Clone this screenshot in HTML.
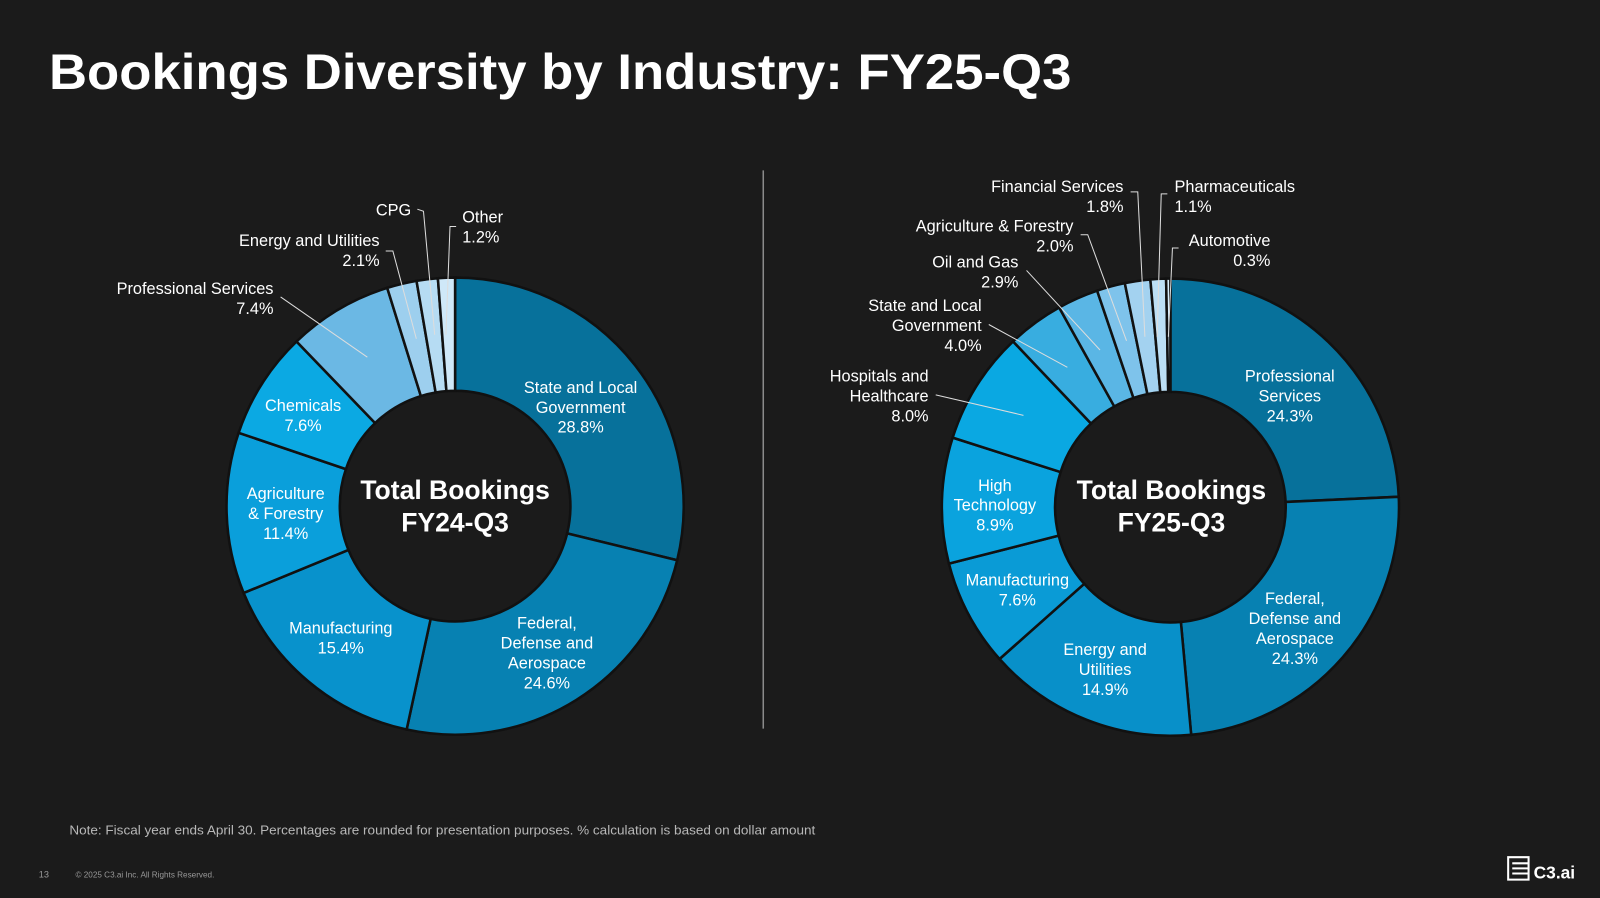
<!DOCTYPE html>
<html><head><meta charset="utf-8"><style>
html,body{margin:0;padding:0;background:#1b1b1b;width:1600px;height:898px;overflow:hidden}
svg{display:block}
text{font-family:"Liberation Sans",Arial,sans-serif;fill:#fff}
</style></head><body>
<svg id="chart" width="1600" height="898" viewBox="0 0 1568 880" preserveAspectRatio="none" xmlns="http://www.w3.org/2000/svg">
<rect width="1568" height="880" fill="#1b1b1b"/>
<text x="48" y="87" font-size="49" font-weight="bold" textLength="1002" lengthAdjust="spacingAndGlyphs">Bookings Diversity by Industry: FY25-Q3</text>
<line x1="748" y1="167" x2="748" y2="714" stroke="#8a8a8a" stroke-width="1.5"/>
<g id="left"></g><g id="right"></g><g id="labels"></g>
<text x="68" y="818" font-size="13" textLength="731" lengthAdjust="spacingAndGlyphs" style="fill:#b8b8b8">Note: Fiscal year ends April 30. Percentages are rounded for presentation purposes. % calculation is based on dollar amount</text>
<text x="38" y="860" font-size="9" style="fill:#999">13</text>
<text x="74" y="860" font-size="8" style="fill:#999">© 2025 C3.ai Inc. All Rights Reserved.</text>
<g>
<path d="M1478 840h20v22h-20z M1482 846h16 M1482 851h16 M1482 856h16" fill="none" stroke="#fff" stroke-width="2"/>
<text x="1503" y="861" font-size="17" font-weight="bold">C3.ai</text>
</g>
</svg>
<script>
const leftCategories=["State and Local Government","Federal, Defense and Aerospace","Manufacturing","Agriculture & Forestry","Chemicals","Professional Services","Energy and Utilities","CPG","Other"];
const leftValues=[28.8,24.6,15.4,11.4,7.6,7.4,2.1,1.5,1.2];
const leftColors=["#07719b","#0781b2","#0892cc","#0a9fdb","#0ba9e3","#6bb8e4","#9dcfee","#b6dcf3","#cfe8f8"];
const rightCategories=["Professional Services","Federal, Defense and Aerospace","Energy and Utilities","Manufacturing","High Technology","Hospitals and Healthcare","State and Local Government","Oil and Gas","Agriculture & Forestry","Financial Services","Pharmaceuticals","Automotive"];
const rightValues=[24.3,24.3,14.9,7.6,8.9,8.0,4.0,2.9,2.0,1.8,1.1,0.3];
const rightColors=["#07719b","#0781b2","#0890c9","#0a9bd6","#0aa3de","#0aa8e2","#38ade0","#5ab6e5","#7ec3eb","#a3d2f0","#bcdff5","#d6ecfa"];
const NS="http://www.w3.org/2000/svg";
function donut(gid,cx,cy,R,r,vals,cols,cats){
  const g=document.getElementById(gid);
  const tot=vals.reduce((a,b)=>a+b,0);
  let a0=0;
  vals.forEach((v,i)=>{
    const a1=a0+v/tot*2*Math.PI;
    const p=(a,rr)=>[cx+rr*Math.sin(a),cy-rr*Math.cos(a)];
    const [x1,y1]=p(a0,R),[x2,y2]=p(a1,R),[x3,y3]=p(a1,r),[x4,y4]=p(a0,r);
    const lg=(a1-a0)>Math.PI?1:0;
    const path=document.createElementNS(NS,"path");
    path.setAttribute("d",`M${x1},${y1}A${R},${R} 0 ${lg} 1 ${x2},${y2}L${x3},${y3}A${r},${r} 0 ${lg} 0 ${x4},${y4}Z`);
    path.setAttribute("fill",cols[i]);
    path.setAttribute("stroke","#111");
    path.setAttribute("stroke-width","2.5");
    
    
    g.appendChild(path);
    a0=a1;
  });
}
donut("left",446,496,224,113,leftValues,leftColors,leftCategories);
donut("right",1147,497,224,113,rightValues,rightColors,rightCategories);
const L=document.getElementById("labels");
function txt(name,x,y,lines,anchor,size,bold){
  const t=document.createElementNS(NS,"text");
  t.setAttribute("x",x);t.setAttribute("y",y);
  t.setAttribute("text-anchor",anchor);t.setAttribute("font-size",size);
  if(bold)t.setAttribute("font-weight","bold");
  
  
  lines.forEach((s,k)=>{const ts=document.createElementNS(NS,"tspan");ts.setAttribute("x",x);ts.setAttribute("dy",k?size*1.22:0);ts.textContent=s;t.appendChild(ts);});
  L.appendChild(t);
}
function line(name,pts){
  const p=document.createElementNS(NS,"polyline");
  p.setAttribute("points",pts);p.setAttribute("fill","none");p.setAttribute("stroke","#ddd");p.setAttribute("stroke-width","1");
  
  
  L.appendChild(p);
}
const f=v=>v.toFixed(1)+"%";
txt("label-state-local-fy24",569,385,["State and Local","Government",f(leftValues[0])],"middle",16);
txt("label-federal-fy24",536,616,["Federal,","Defense and","Aerospace",f(leftValues[1])],"middle",16);
txt("label-manufacturing-fy24",334,621,["Manufacturing",f(leftValues[2])],"middle",16);
txt("label-agriculture-fy24",280,489,["Agriculture","& Forestry",f(leftValues[3])],"middle",16);
txt("label-chemicals-fy24",297,403,["Chemicals",f(leftValues[4])],"middle",16);
txt("label-professional-fy24",268,288,["Professional Services",f(leftValues[5])],"end",16);
txt("label-energy-fy24",372,241,["Energy and Utilities",f(leftValues[6])],"end",16);
txt("label-cpg-fy24",403,211,["CPG"],"end",16);
txt("label-other-fy24",453,218,["Other",f(leftValues[8])],"start",16);
line("leader-professional-fy24","275,291 360,350");
line("leader-energy-fy24","378,246 385,246 408,332");
line("leader-cpg-fy24","409,205 415,207 426,328");
line("leader-other-fy24","447,222 441,222 437,328");
txt("center-fy24",446,489,["Total Bookings","FY24-Q3"],"middle",26,true);
txt("label-professional-fy25",1264,374,["Professional","Services",f(rightValues[0])],"middle",16);
txt("label-federal-fy25",1269,592,["Federal,","Defense and","Aerospace",f(rightValues[1])],"middle",16);
txt("label-energy-fy25",1083,642,["Energy and","Utilities",f(rightValues[2])],"middle",16);
txt("label-manufacturing-fy25",997,574,["Manufacturing",f(rightValues[3])],"middle",16);
txt("label-hightech-fy25",975,481,["High","Technology",f(rightValues[4])],"middle",16);
txt("label-hospitals-fy25",910,374,["Hospitals and","Healthcare",f(rightValues[5])],"end",16);
txt("label-state-local-fy25",962,305,["State and Local","Government",f(rightValues[6])],"end",16);
txt("label-oil-gas-fy25",998,262,["Oil and Gas",f(rightValues[7])],"end",16);
txt("label-agriculture-fy25",1052,227,["Agriculture & Forestry",f(rightValues[8])],"end",16);
txt("label-financial-fy25",1101,188,["Financial Services",f(rightValues[9])],"end",16);
txt("label-pharma-fy25",1151,188,["Pharmaceuticals",f(rightValues[10])],"start",16);
txt("label-automotive-fy25",1245,241,["Automotive",f(rightValues[11])],"end",16);
line("leader-hospitals-fy25","917,387 1003,407");
line("leader-state-local-fy25","969,318 1046,360");
line("leader-oil-gas-fy25","1006,265 1078,343");
line("leader-agriculture-fy25","1059,230 1066,230 1104,334");
line("leader-financial-fy25","1108,188 1115,188 1122,330");
line("leader-pharma-fy25","1144,190 1138,190 1134,330");
line("leader-automotive-fy25","1155,243 1149,243 1145,330");
txt("center-fy25",1148,489,["Total Bookings","FY25-Q3"],"middle",26,true);
</script>
</body></html>
